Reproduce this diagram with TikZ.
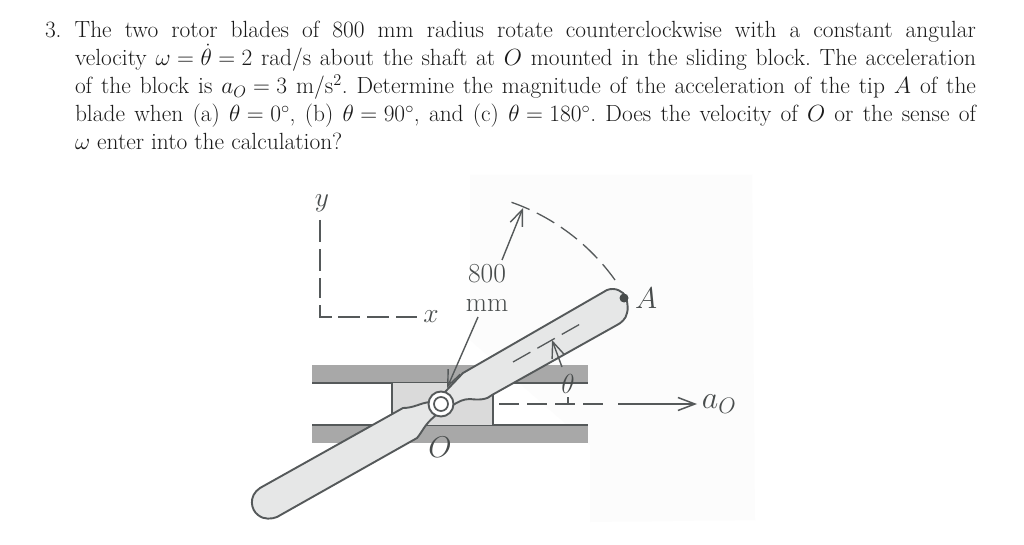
\RequirePackage{fix-cm}
\documentclass[tikz,border=0pt]{standalone}
\usepackage{amsmath}
\usetikzlibrary{arrows.meta}
\AtBeginDocument{\frenchspacing\thickmuskip=5mu\relax}
\definecolor{ink}{HTML}{1A1A1A}
\definecolor{edge}{HTML}{55595A}
\definecolor{barfill}{HTML}{A8A8A8}
\definecolor{bladefill}{HTML}{E6E7E7}
\definecolor{blockfill}{HTML}{DADADA}
\definecolor{sheet}{HTML}{FCFCFC}
\definecolor{labelink}{HTML}{484C4C}
\tikzset{
  textline/.style={anchor=base west,inner sep=0pt,outer sep=0pt,text=ink,font=\fontsize{23.4}{26}\selectfont},
  figlabel/.style={inner sep=0pt,outer sep=0pt,text=labelink,font=\fontsize{27.5}{30}\selectfont},
  bar/.style={fill=barfill,draw=none},
  outline/.style={draw=edge,line width=1.9pt,line join=round},
  thin dash/.style={draw=edge,line width=1.3pt,dash pattern=on 20pt off 8pt},
  lead/.style={draw=edge,line width=1.4pt,-{Straight Barb[length=16pt,width=13pt,line width=1.4pt]}}
}
\begin{document}
\begin{tikzpicture}[x=1pt,y=-1pt]
\useasboundingbox (0,0) rectangle (1024,545);
\fill[white] (0,0) rectangle (1024,545);
\fill[sheet] (470,175) -- (752,175) -- (755,520) -- (590,522) -- (590,445) -- (470,340) -- cycle;
% problem statement
\node[textline] (l1) at (45,38) {\makebox[931pt][s]{3. The two rotor blades of 800 mm radius rotate counterclockwise with a constant angular}};
\node[textline] (l2) at (75,66) {\makebox[901pt][s]{velocity $\omega=\dot{\theta}=2$ rad/s about the shaft at $O$ mounted in the sliding block. The acceleration}};
\node[textline] (l3) at (75,94) {\makebox[901pt][s]{of the block is $a_O=3$ m/s$^2$. Determine the magnitude of the acceleration of the tip $A$ of the}};
\node[textline] (l4) at (75,122) {\makebox[901pt][s]{blade when (a) $\theta=0^\circ$, (b) $\theta=90^\circ$, and (c) $\theta=180^\circ$. Does the velocity of $O$ or the sense of}};
\node[textline] (l5) at (75,150) {$\omega$ enter into the calculation?};
% guides
\fill[bar] (312,365) rectangle (588,383);
\fill[bar] (312,425) rectangle (588,443);
\draw[edge,line width=1.7pt] (312,383) -- (588,383);
\draw[edge,line width=1.7pt] (312,425) -- (588,425);
% sliding block
\fill[blockfill] (392,383) rectangle (493,425);
\draw[edge,line width=1.6pt] (392,383) -- (392,425);
\draw[edge,line width=1.6pt] (493,383) -- (493,425);
% blades
\path[outline,fill=bladefill]
  (430,402) .. controls (420,403) and (414,408) .. (403,408)
  -- (260,488) .. controls (248,496) and (251,510) .. (258,515)
  .. controls (264,520) and (272,519) .. (277,517)
  -- (417,438) .. controls (423,431) and (424,425) .. (435,416) -- cycle;
\path[outline,fill=bladefill]
  (445,392) -- (463,373) -- (607,290)
  .. controls (615,287) and (623,291) .. (626,297)
  .. controls (628,304) and (628,310) .. (627,313)
  .. controls (626,319) and (621,323) .. (617,325)
  -- (492,395) .. controls (487,400) and (478,400) .. (470,399)
  .. controls (463,399) and (458,402) .. (453,405) -- cycle;
% hub
\node[circle,draw=edge,line width=1.9pt,fill=white,minimum size=25pt,inner sep=0pt] (hub) at (441,404) {};
\node[circle,draw=edge,line width=1.7pt,fill=white,minimum size=14pt,inner sep=0pt] (pin) at (441,404) {};
% axes
\coordinate (yt) at (320,220);
\coordinate (yb) at (320,298);
\coordinate (cc) at (320,317);
\coordinate (xs) at (338,317);
\coordinate (xe) at (417,317);
\draw[edge,line width=1.3pt,dash pattern=on 22pt off 7pt] (yt) -- (yb);
\draw[edge,line width=1.3pt] (320,305) -- (cc) -- (332,317);
\draw[edge,line width=1.3pt,dash pattern=on 22pt off 7pt] (xs) -- (xe);
\node[figlabel] (ylab) at (322,203) {$y$};
\node[figlabel] (xlab) at (431,317) {$x$};
% radius
\draw[thin dash] (615,280) arc[start angle=-35.5,end angle=-70.7,radius=214];
\coordinate (rt) at (523,208);
\coordinate (rs) at (502,260);
\coordinate (lt) at (447,388);
\coordinate (ls) at (478,317);
\draw[lead] (rs) -- (rt);
\draw[lead] (ls) -- (lt);
\node[figlabel] (n800) at (487,274) {800};
\node[figlabel] (nmm) at (487,305) {mm};
% centre line and angle
\coordinate (c1) at (513,362);
\coordinate (c2) at (582,323);
\draw[thin dash] (c1) -- (c2);
\coordinate (hs) at (499,404);
\coordinate (he) at (607,404);
\draw[thin dash] (hs) -- (he);
\draw[edge,line width=1.3pt] (568,397) -- (568,404);
\coordinate (ts) at (562,367);
\coordinate (tt) at (552,340);
\draw[lead] (ts) -- (tt);
\node[figlabel] (theta) at (568,384) {$\theta$};
% tip
\node[circle,fill=labelink,minimum size=9pt,inner sep=0pt] (tip) at (624,298) {};
\node[figlabel,font=\fontsize{30}{32}\selectfont] (alab) at (646,298) {$A$};
% acceleration
\coordinate (as) at (618,404);
\coordinate (ae) at (697,404);
\draw[edge,line width=1.9pt,-{Straight Barb[length=17pt,width=13pt,line width=1.5pt]}] (as) -- (ae);
\node[figlabel,font=\fontsize{32}{34}\selectfont] (aolab) at (719,404) {$a_O$};
\node[figlabel,font=\fontsize{30}{32}\selectfont] (olab) at (440,447) {$O$};
\end{tikzpicture}
\end{document}
